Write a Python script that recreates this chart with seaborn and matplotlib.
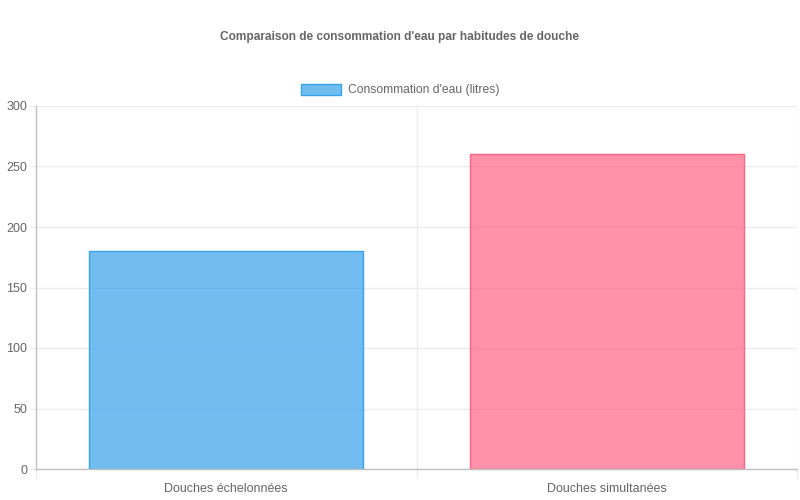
import matplotlib
matplotlib.use("Agg")
import matplotlib.pyplot as plt
from matplotlib.patches import Patch
import seaborn as sns

categories = ["Douches échelonnées", "Douches simultanées"]
values = [180, 260]
series_label = "Consommation d'eau (litres)"
title = "Comparaison de consommation d'eau par habitudes de douche"
y_ticks = [0, 50, 100, 150, 200, 250, 300]

fill_colors = [(54/255, 162/255, 235/255, 0.7), (255/255, 99/255, 132/255, 0.7)]
edge_colors = [(54/255, 162/255, 235/255, 1.0), (255/255, 99/255, 132/255, 1.0)]

sns.set_theme(style="white")
plt.rcParams['font.family'] = ['Liberation Sans', 'DejaVu Sans']

fig = plt.figure(figsize=(8, 5), dpi=100)
ax = fig.add_axes([36/800, 31/500, (797-36)/800, (469-106)/500])

sns.barplot(x=categories, y=values, hue=categories, palette=fill_colors,
            width=0.72, legend=False, ax=ax, saturation=1)
for patch, ec in zip(ax.patches, edge_colors):
    patch.set_edgecolor(ec)
    patch.set_linewidth(1.0)

grid_c = "#ebebeb"
axis_c = "#bfbfbf"
ax.set_xlim(-0.5, 1.5)
ax.set_ylim(0, 300)
ax.set_yticks(y_ticks)
ax.set_xticks([0, 1])
ax.set_xticks([-0.5, 0.5, 1.5], minor=True)
ax.set_xticklabels(categories)
ax.set_xlabel("")
ax.set_ylabel("")
ax.yaxis.grid(True, color=grid_c, linewidth=1, alpha=1)
ax.xaxis.grid(True, which="minor", color=grid_c, linewidth=1, alpha=1)
ax.set_axisbelow(True)
ax.tick_params(axis="x", which="major", length=0, pad=10, labelsize=9, labelcolor="#666666")
ax.tick_params(axis="x", which="minor", length=6.5, color=grid_c, width=1)
ax.tick_params(axis="y", length=4.3, color=grid_c, width=1, pad=2, labelsize=9, labelcolor="#666666")
ax.tick_params(left=True, bottom=True, which="both")
for s in ["top", "right"]:
    ax.spines[s].set_visible(False)
for s in ["left", "bottom"]:
    ax.spines[s].set_color(axis_c)
    ax.spines[s].set_linewidth(1)

fig.text(0.5, 1 - 37/500, title, ha="center", va="center", fontsize=8.55,
         fontweight="bold", color="#666666")

handle = Patch(facecolor=fill_colors[0], edgecolor=edge_colors[0], linewidth=1)
fig.legend([handle], [series_label], loc="center", bbox_to_anchor=(0.5, 1 - 90/500),
           frameon=False, fontsize=8.75, labelcolor="#666666", handlelength=3.3,
           handleheight=1.0, handletextpad=0.6)

fig.savefig("out.png", dpi=100)
